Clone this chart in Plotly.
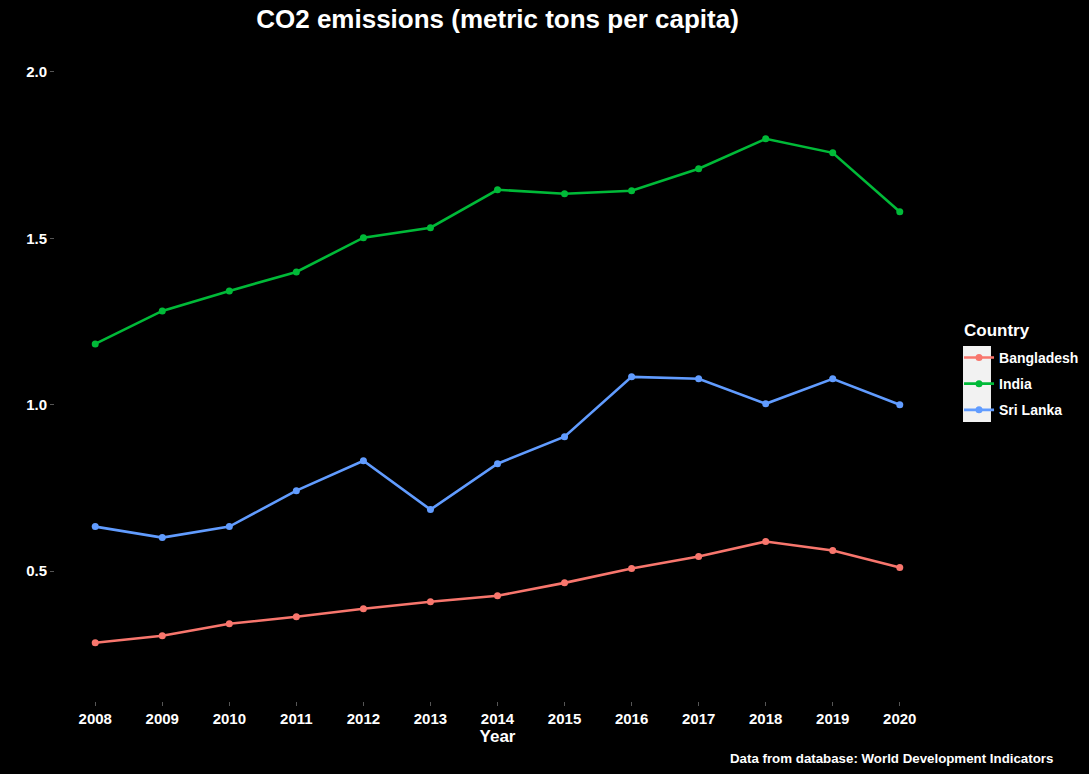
import plotly.graph_objects as go

years = list(range(2008, 2021))
countries = ["Bangladesh", "India", "Sri Lanka"]
bangladesh = [0.285, 0.306, 0.342, 0.363, 0.387, 0.408, 0.426, 0.465, 0.508, 0.544, 0.589, 0.562, 0.511]
india = [1.183, 1.282, 1.342, 1.399, 1.502, 1.532, 1.646, 1.634, 1.643, 1.709, 1.799, 1.757, 1.580]
sri_lanka = [0.634, 0.601, 0.634, 0.742, 0.832, 0.685, 0.823, 0.904, 1.084, 1.078, 1.003, 1.078, 1.000]
y_ticks = [0.5, 1.0, 1.5, 2.0]

colors = ["#F8766D", "#00BA38", "#619CFF"]
font = "Liberation Sans, Arial, sans-serif"

fig = go.Figure()
for name, vals, col in zip(countries, [bangladesh, india, sri_lanka], colors):
    fig.add_trace(go.Scatter(
        x=years, y=vals, name=name, mode="lines+markers",
        legendgroup=name,
        line=dict(color=col, width=2.6),
        marker=dict(color=col, size=7),
    ))

fig.update_layout(
    width=1089, height=774,
    paper_bgcolor="black", plot_bgcolor="black",
    margin=dict(l=55, r=149, t=42, b=73, autoexpand=False),
    font=dict(family=font, color="white", size=15),
    title=dict(text="<b>CO2 emissions (metric tons per capita)</b>",
               x=0.5, xref="paper", xanchor="center",
               y=0.975, yanchor="middle", font=dict(size=26, color="white")),
    xaxis=dict(
        range=[2007.4, 2020.6], tickvals=years,
        ticktext=[f"<b>{y}</b>" for y in years],
        showgrid=False, zeroline=False, showline=False,
        ticks="outside", ticklen=4, tickcolor="#555", tickwidth=1,
        tickfont=dict(size=15, color="white"),
        title=dict(text="<b>Year</b>", font=dict(size=17, color="white"), standoff=2),
    ),
    yaxis=dict(
        range=[0.11, 2.09], tickvals=y_ticks,
        ticktext=[f"<b>{v:.1f}</b>" for v in y_ticks],
        showgrid=False, zeroline=False, showline=False,
        ticks="outside", ticklen=4, tickcolor="#555", tickwidth=1,
        tickfont=dict(size=15, color="white"),
    ),
    legend=dict(
        x=1.0215, xanchor="left", y=0.545, yanchor="top",
        bgcolor="rgba(0,0,0,0)",
        font=dict(size=14, color="white", weight="bold"),
        itemwidth=30, tracegroupgap=5,
    ),
    shapes=[dict(type="rect", xref="paper", yref="paper",
                 x0=1.026, x1=1.0576, y0=0.4234, y1=0.5387,
                 fillcolor="#F2F2F2", line=dict(width=0), layer="below")],
    annotations=[
        dict(text="<b>Country</b>", xref="paper", yref="paper",
             x=1.0248, y=0.5615, xanchor="left", yanchor="middle",
             showarrow=False, font=dict(size=17, color="white")),
        dict(text="<b>Data from database: World Development Indicators</b>",
             xref="paper", yref="paper", x=1.13, y=-0.088,
             xanchor="right", yanchor="middle", showarrow=False,
             font=dict(size=13.3, color="white")),
    ],
)

fig.write_html("out.html", config={"displayModeBar": False},
               post_script="document.body.style.margin='0';document.body.style.background='black';")
